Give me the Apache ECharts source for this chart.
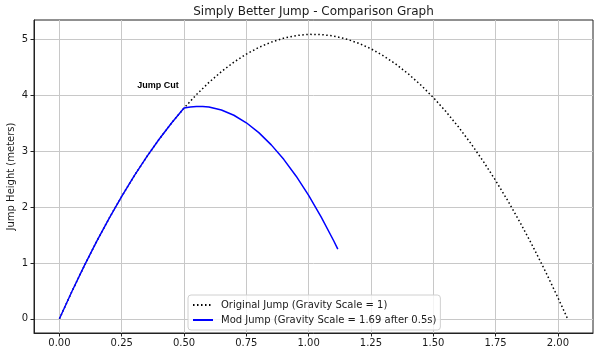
<!DOCTYPE html>
<html>
<head>
<meta charset="utf-8">
<script src="https://cdn.jsdelivr.net/npm/echarts@6/dist/echarts.min.js"></script>
<style>
html,body{margin:0;padding:0;background:#fff;}
#chart{width:600px;height:350px;}
</style>
</head>
<body>
<div id="chart"></div>
<script>
// Data
const titleText = "Simply Better Jump - Comparison Graph";
const yAxisName = "Jump Height (meters)";
const seriesNames = ["Original Jump (Gravity Scale = 1)", "Mod Jump (Gravity Scale = 1.69 after 0.5s)"];
const xTicks = [0, 0.25, 0.5, 0.75, 1.0, 1.25, 1.5, 1.75, 2.0];
const yTicks = [0, 1, 2, 3, 4, 5];
const originalT = [0, 0.05, 0.1, 0.15, 0.2, 0.25, 0.3, 0.35, 0.4, 0.45, 0.5, 0.55, 0.6, 0.65, 0.7, 0.75, 0.8, 0.85, 0.9, 0.95, 1.0, 1.05, 1.1, 1.15, 1.2, 1.25, 1.3, 1.35, 1.4, 1.45, 1.5, 1.55, 1.6, 1.65, 1.7, 1.75, 1.8, 1.85, 1.9, 1.95, 2.0, 2.039];
const originalH = [0, 0.488, 0.951, 1.390, 1.804, 2.193, 2.559, 2.899, 3.215, 3.507, 3.774, 4.016, 4.234, 4.428, 4.597, 4.741, 4.861, 4.956, 5.027, 5.073, 5.095, 5.092, 5.065, 5.013, 4.937, 4.836, 4.711, 4.561, 4.386, 4.187, 3.964, 3.716, 3.443, 3.146, 2.825, 2.478, 2.108, 1.713, 1.293, 0.849, 0.380, 0.0];
const modT = [0, 0.05, 0.1, 0.15, 0.2, 0.25, 0.3, 0.35, 0.4, 0.45, 0.5, 0.525, 0.55, 0.575, 0.6, 0.65, 0.7, 0.75, 0.8, 0.85, 0.9, 0.95, 1.0, 1.05, 1.1, 1.117];
const modH = [0, 0.488, 0.951, 1.390, 1.804, 2.193, 2.559, 2.899, 3.215, 3.507, 3.774, 3.794, 3.804, 3.803, 3.793, 3.740, 3.646, 3.511, 3.334, 3.115, 2.856, 2.554, 2.211, 1.827, 1.402, 1.248];
const annotationText = "Jump Cut";
const annotationPos = [0.312, 4.18];

const pairs = (xs, ys) => xs.map((x, i) => [x, ys[i]]);
const font = "DejaVu Sans";
const textColor = "#1a1a1a";

const chart = echarts.init(document.getElementById('chart'), null, {renderer: 'canvas'});
chart.setOption({
  animation: false,
  backgroundColor: '#ffffff',
  title: {
    text: titleText,
    left: 313.5,
    textAlign: 'center',
    top: 6,
    padding: 0,
    textStyle: {fontFamily: font, fontSize: 12, fontWeight: 'normal', color: textColor}
  },
  grid: {
    left: 34, right: 7, top: 20, bottom: 17,
    outerBoundsMode: 'none', containLabel: false,
    show: true, borderColor: '#222', borderWidth: 1, backgroundColor: 'transparent'
  },
  legend: {
    orient: 'vertical',
    left: 188, top: 295,
    padding: [5, 4, 5, 4],
    itemWidth: 20, itemHeight: 12, itemGap: 5,
    backgroundColor: 'rgba(255,255,255,0.8)',
    borderColor: '#d0d0d0', borderWidth: 1, borderRadius: 3,
    itemStyle: {opacity: 0},
    textStyle: {fontFamily: font, fontSize: 10, color: textColor, padding: [0, 0, 0, 3]},
    data: seriesNames
  },
  xAxis: {
    type: 'value', min: -0.102, max: 2.141,
    axisLine: {show: true, onZero: false, lineStyle: {color: '#222', width: 1}},
    axisTick: {show: true, customValues: xTicks, length: 3.5, lineStyle: {color: '#222'}},
    axisLabel: {customValues: xTicks, margin: 5, fontFamily: font, fontSize: 10, color: textColor,
      formatter: v => Number(v).toFixed(2)},
    splitLine: {show: true, lineStyle: {color: '#c8c8c8', width: 1}}
  },
  yAxis: {
    type: 'value', min: -0.255, max: 5.352,
    name: yAxisName, nameLocation: 'middle', nameGap: 18, nameMoveOverlap: false,
    nameTextStyle: {fontFamily: font, fontSize: 10, color: textColor},
    axisLine: {show: true, onZero: false, lineStyle: {color: '#222', width: 1}},
    axisTick: {show: true, customValues: yTicks, length: 3.5, lineStyle: {color: '#222'}},
    axisLabel: {customValues: yTicks, margin: 6, fontFamily: font, fontSize: 10, color: textColor},
    splitLine: {show: true, lineStyle: {color: '#c8c8c8', width: 1}}
  },
  series: [
    {
      name: seriesNames[0], type: 'line', data: pairs(originalT, originalH),
      symbol: 'none', showSymbol: false, smooth: false,
      lineStyle: {color: '#000', width: 1.5, type: [1.5, 2.5]},
      itemStyle: {color: '#000'},
      markPoint: {
        symbol: 'circle', symbolSize: 0,
        data: [{coord: annotationPos, value: annotationText}],
        label: {show: true, position: 'right', distance: 0, formatter: annotationText,
          fontFamily: 'Liberation Sans', fontWeight: 'bold', fontSize: 9, color: '#000'}
      }
    },
    {
      name: seriesNames[1], type: 'line', data: pairs(modT, modH),
      symbol: 'none', showSymbol: false, smooth: false,
      lineStyle: {color: '#0000ff', width: 1.5},
      itemStyle: {color: '#0000ff'}
    }
  ]
});
</script>
</body>
</html>
